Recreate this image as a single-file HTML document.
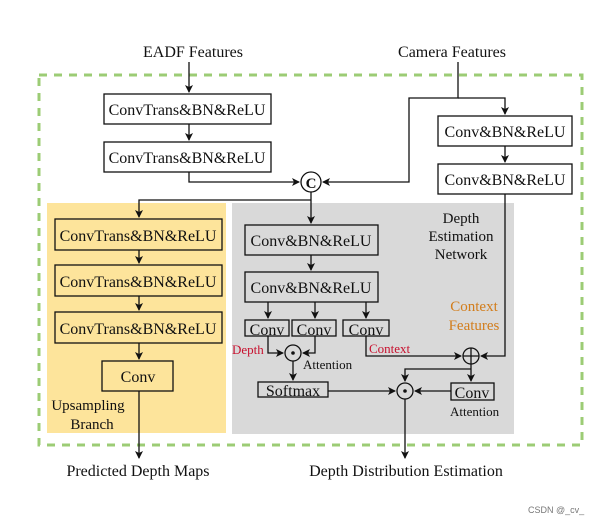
<!DOCTYPE html>
<html><head><meta charset="utf-8"><style>body{margin:0;background:#fff}svg{display:block}text{font-family:"Liberation Serif",serif;fill:#111}</style></head><body>
<svg width="600" height="525" viewBox="0 0 600 525" xmlns="http://www.w3.org/2000/svg">
<defs><marker id="a" markerWidth="8" markerHeight="8" refX="7" refY="4" orient="auto" markerUnits="userSpaceOnUse"><path d="M0,0 L8,4 L0,8 L2,4 Z" fill="#111"/></marker></defs>
<rect x="39" y="75" width="543" height="370" fill="none" stroke="#9ccc75" stroke-width="3" stroke-dasharray="8,7"/>
<rect x="47" y="203" width="179" height="230" fill="#fde49b"/>
<rect x="232" y="203" width="282" height="231" fill="#d9d9d9"/>
<g font-size="16" text-anchor="middle">
<text x="193" y="57">EADF Features</text>
<text x="452" y="57">Camera Features</text>
<text x="138" y="476">Predicted Depth Maps</text>
<text x="406" y="476">Depth Distribution Estimation</text>
</g>
<g stroke="#111" stroke-width="1.3" fill="none">
<rect x="104" y="94" width="167" height="30"/>
<rect x="104" y="142" width="167" height="30"/>
<rect x="438" y="116" width="134" height="30"/>
<rect x="438" y="164" width="134" height="30"/>
<rect x="55" y="219" width="167" height="31"/>
<rect x="55" y="265" width="167" height="31"/>
<rect x="55" y="312" width="167" height="31"/>
<rect x="102" y="361" width="71" height="30"/>
<rect x="245" y="225" width="133" height="30"/>
<rect x="245" y="272" width="133" height="30"/>
<rect x="245" y="320" width="44" height="16"/>
<rect x="292" y="320" width="44" height="16"/>
<rect x="343" y="320" width="46" height="16"/>
<rect x="258" y="382" width="70" height="15"/>
<rect x="451" y="383" width="43" height="17"/>
<circle cx="311" cy="182" r="10" fill="#fff"/>
<circle cx="293" cy="353" r="8"/>
<circle cx="405" cy="391" r="8"/>
<circle cx="471" cy="356" r="8"/>
<path d="M463,356H479M471,348V364"/>
<path d="M189,62V92" marker-end="url(#a)"/>
<path d="M189,124V140" marker-end="url(#a)"/>
<path d="M189,172V182H299" marker-end="url(#a)"/>
<path d="M458,62V98H409V182H323" marker-end="url(#a)"/>
<path d="M458,98H505V114" marker-end="url(#a)"/>
<path d="M505,146V162" marker-end="url(#a)"/>
<path d="M505,194V356H481" marker-end="url(#a)"/>
<path d="M311,192V223" marker-end="url(#a)"/>
<path d="M311,200H139V217" marker-end="url(#a)"/>
<path d="M139,250V263" marker-end="url(#a)"/>
<path d="M139,296V310" marker-end="url(#a)"/>
<path d="M139,343V359" marker-end="url(#a)"/>
<path d="M139,391V458" marker-end="url(#a)"/>
<path d="M311,255V270" marker-end="url(#a)"/>
<path d="M268,302V318" marker-end="url(#a)"/>
<path d="M315,302V318" marker-end="url(#a)"/>
<path d="M366,302V318" marker-end="url(#a)"/>
<path d="M268,336V353H283" marker-end="url(#a)"/>
<path d="M315,336V353H303" marker-end="url(#a)"/>
<path d="M293,361V380" marker-end="url(#a)"/>
<path d="M366,336V356H461" marker-end="url(#a)"/>
<path d="M471,364V381" marker-end="url(#a)"/>
<path d="M471,369H405V381" marker-end="url(#a)"/>
<path d="M328,391H395" marker-end="url(#a)"/>
<path d="M451,391H415" marker-end="url(#a)"/>
<path d="M405,399V458" marker-end="url(#a)"/>
</g>
<circle cx="293" cy="353" r="1.8" fill="#111"/>
<circle cx="405" cy="391" r="1.8" fill="#111"/>
<g font-size="16" text-anchor="middle">
<text x="187" y="115">ConvTrans&amp;BN&amp;ReLU</text>
<text x="187" y="163">ConvTrans&amp;BN&amp;ReLU</text>
<text x="505" y="137">Conv&amp;BN&amp;ReLU</text>
<text x="505" y="185">Conv&amp;BN&amp;ReLU</text>
<text x="138" y="241">ConvTrans&amp;BN&amp;ReLU</text>
<text x="138" y="287">ConvTrans&amp;BN&amp;ReLU</text>
<text x="138" y="334">ConvTrans&amp;BN&amp;ReLU</text>
<text x="138" y="382">Conv</text>
<text x="311" y="246">Conv&amp;BN&amp;ReLU</text>
<text x="311" y="293">Conv&amp;BN&amp;ReLU</text>
<text x="267" y="335">Conv</text>
<text x="314" y="335">Conv</text>
<text x="366" y="335">Conv</text>
<text x="293" y="396">Softmax</text>
<text x="472" y="398">Conv</text>
</g>
<g font-size="15" text-anchor="middle">
<text x="461" y="223">Depth</text>
<text x="461" y="241">Estimation</text>
<text x="461" y="259">Network</text>
<text x="474" y="311" style="fill:#d27d1c">Context</text>
<text x="474" y="330" style="fill:#d27d1c">Features</text>
<text x="88" y="410">Upsampling</text>
<text x="92" y="429">Branch</text>
<text x="311" y="188" font-weight="bold">C</text>
</g>
<g font-size="13">
<text x="232" y="354" style="fill:#c8102e">Depth</text>
<text x="369" y="353" style="fill:#c8102e">Context</text>
<text x="303" y="369">Attention</text>
<text x="450" y="416">Attention</text>
</g>
<text x="528" y="513" font-size="9" style="font-family:'Liberation Sans',sans-serif;fill:#777">CSDN @_cv_</text>
</svg>
</body></html>
